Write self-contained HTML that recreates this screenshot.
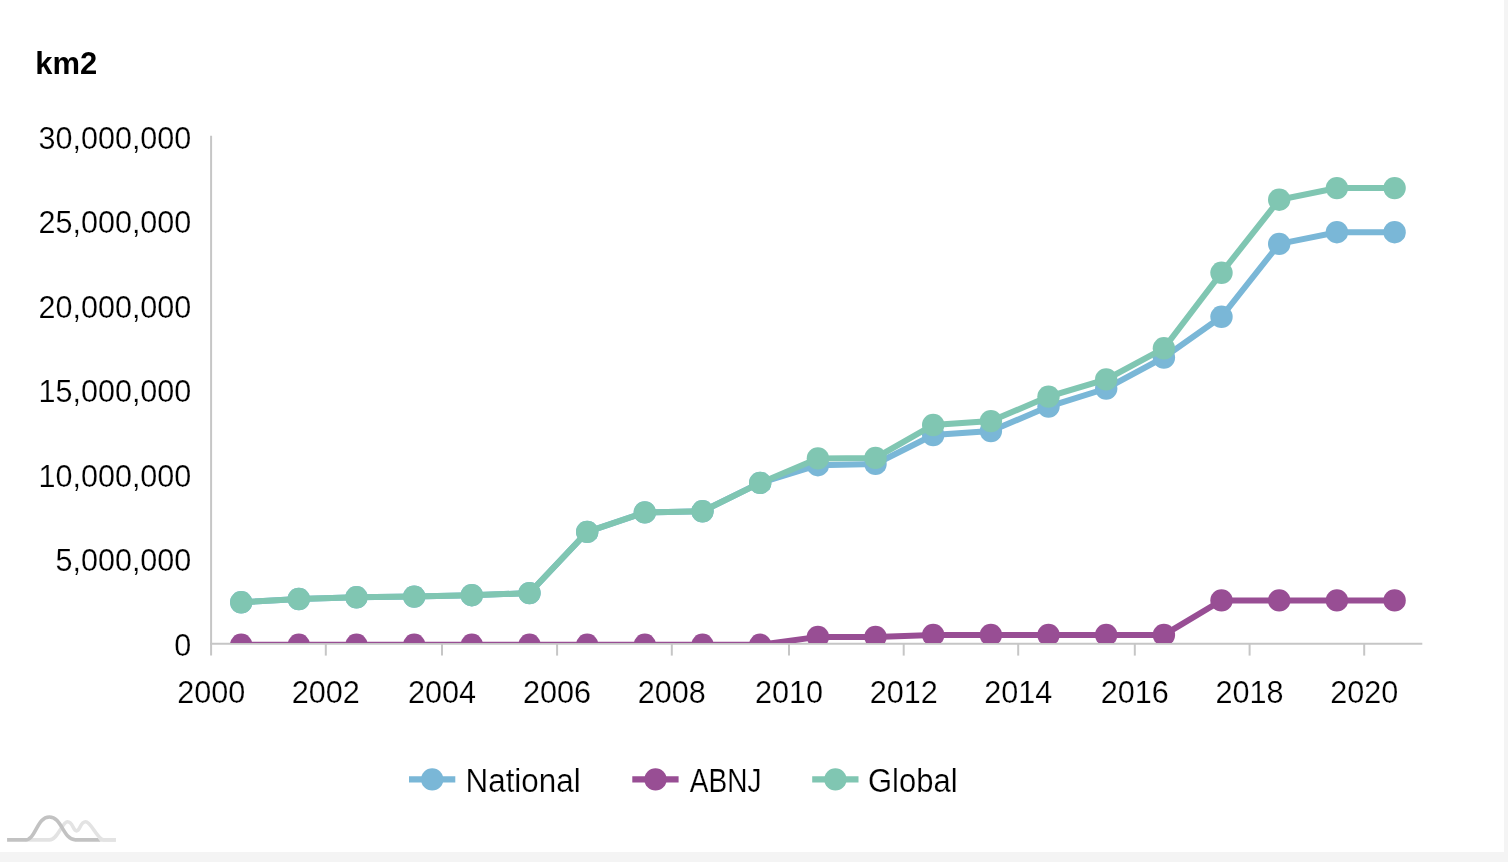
<!DOCTYPE html>
<html lang="en"><head><meta charset="utf-8"><title>Marine protected area growth</title>
<style>
html,body{margin:0;padding:0;background:#f4f4f4;overflow:hidden}
body{width:1508px;height:862px;position:relative;font-family:"Liberation Sans",sans-serif}
#card{position:absolute;left:0;top:0;width:1504px;height:852px;background:#fff}
svg{position:absolute;left:0;top:0;display:block}
svg text{font-family:"Liberation Sans",sans-serif;font-size:30px;fill:#000;stroke:#fff;stroke-width:0.2px;paint-order:fill stroke}
#unit{stroke:none}
</style></head><body>
<div id="card"></div>
<svg width="1508" height="862" viewBox="0 0 1508 862">
<text id="unit" transform="translate(35.2,74.4) scale(0.968,1)" style="font-weight:bold;font-size:32px">km2</text>
<g id="ylabels">
<text transform="translate(191.30,656.00) scale(1.018,1.068)" text-anchor="end">0</text>
<text transform="translate(191.30,571.42) scale(1.018,1.068)" text-anchor="end">5,000,000</text>
<text transform="translate(191.30,486.84) scale(1.018,1.068)" text-anchor="end">10,000,000</text>
<text transform="translate(191.30,402.26) scale(1.018,1.068)" text-anchor="end">15,000,000</text>
<text transform="translate(191.30,317.68) scale(1.018,1.068)" text-anchor="end">20,000,000</text>
<text transform="translate(191.30,233.10) scale(1.018,1.068)" text-anchor="end">25,000,000</text>
<text transform="translate(191.30,148.52) scale(1.018,1.068)" text-anchor="end">30,000,000</text>
</g>
<g id="xlabels">
<text transform="translate(211.20,702.80) scale(1.02,1.065)" text-anchor="middle">2000</text>
<text transform="translate(325.80,702.80) scale(1.02,1.065)" text-anchor="middle">2002</text>
<text transform="translate(442.00,702.80) scale(1.02,1.065)" text-anchor="middle">2004</text>
<text transform="translate(557.10,702.80) scale(1.02,1.065)" text-anchor="middle">2006</text>
<text transform="translate(671.80,702.80) scale(1.02,1.065)" text-anchor="middle">2008</text>
<text transform="translate(789.00,702.80) scale(1.02,1.065)" text-anchor="middle">2010</text>
<text transform="translate(903.70,702.80) scale(1.02,1.065)" text-anchor="middle">2012</text>
<text transform="translate(1018.20,702.80) scale(1.02,1.065)" text-anchor="middle">2014</text>
<text transform="translate(1134.80,702.80) scale(1.02,1.065)" text-anchor="middle">2016</text>
<text transform="translate(1249.60,702.80) scale(1.02,1.065)" text-anchor="middle">2018</text>
<text transform="translate(1364.20,702.80) scale(1.02,1.065)" text-anchor="middle">2020</text>
</g>
<g id="axes" stroke="#c6c6c6" stroke-width="2" fill="none">
<line x1="211.1" y1="135.7" x2="211.1" y2="655.6"/>
<line x1="210.1" y1="643.8" x2="1422.3" y2="643.8"/>
<line x1="325.8" y1="644" x2="325.8" y2="655.6"/>
<line x1="442.0" y1="644" x2="442.0" y2="655.6"/>
<line x1="557.1" y1="644" x2="557.1" y2="655.6"/>
<line x1="671.8" y1="644" x2="671.8" y2="655.6"/>
<line x1="789.0" y1="644" x2="789.0" y2="655.6"/>
<line x1="903.7" y1="644" x2="903.7" y2="655.6"/>
<line x1="1018.2" y1="644" x2="1018.2" y2="655.6"/>
<line x1="1134.8" y1="644" x2="1134.8" y2="655.6"/>
<line x1="1249.6" y1="644" x2="1249.6" y2="655.6"/>
<line x1="1364.2" y1="644" x2="1364.2" y2="655.6"/>
</g>
<defs><clipPath id="plot"><rect x="212" y="100" width="1296" height="543"/></clipPath></defs>
<g id="series" clip-path="url(#plot)">
<polyline points="241.2,602.3 298.8,599.0 356.5,597.3 414.2,596.6 471.8,595.2 529.5,593.1 587.2,531.9 644.8,512.4 702.5,511.3 760.2,482.9 817.9,465.2 875.5,463.9 933.2,435.0 990.9,431.1 1048.5,406.6 1106.2,388.5 1163.9,357.5 1221.5,316.8 1279.2,243.9 1336.9,232.2 1394.6,232.2" fill="none" stroke="#7ab7d7" stroke-width="6" stroke-linejoin="miter"/>
<circle cx="241.2" cy="602.3" r="11.2" fill="#7ab7d7"/>
<circle cx="298.8" cy="599.0" r="11.2" fill="#7ab7d7"/>
<circle cx="356.5" cy="597.3" r="11.2" fill="#7ab7d7"/>
<circle cx="414.2" cy="596.6" r="11.2" fill="#7ab7d7"/>
<circle cx="471.8" cy="595.2" r="11.2" fill="#7ab7d7"/>
<circle cx="529.5" cy="593.1" r="11.2" fill="#7ab7d7"/>
<circle cx="587.2" cy="531.9" r="11.2" fill="#7ab7d7"/>
<circle cx="644.8" cy="512.4" r="11.2" fill="#7ab7d7"/>
<circle cx="702.5" cy="511.3" r="11.2" fill="#7ab7d7"/>
<circle cx="760.2" cy="482.9" r="11.2" fill="#7ab7d7"/>
<circle cx="817.9" cy="465.2" r="11.2" fill="#7ab7d7"/>
<circle cx="875.5" cy="463.9" r="11.2" fill="#7ab7d7"/>
<circle cx="933.2" cy="435.0" r="11.2" fill="#7ab7d7"/>
<circle cx="990.9" cy="431.1" r="11.2" fill="#7ab7d7"/>
<circle cx="1048.5" cy="406.6" r="11.2" fill="#7ab7d7"/>
<circle cx="1106.2" cy="388.5" r="11.2" fill="#7ab7d7"/>
<circle cx="1163.9" cy="357.5" r="11.2" fill="#7ab7d7"/>
<circle cx="1221.5" cy="316.8" r="11.2" fill="#7ab7d7"/>
<circle cx="1279.2" cy="243.9" r="11.2" fill="#7ab7d7"/>
<circle cx="1336.9" cy="232.2" r="11.2" fill="#7ab7d7"/>
<circle cx="1394.6" cy="232.2" r="11.2" fill="#7ab7d7"/>

<polyline points="241.2,644.8 298.8,644.8 356.5,644.8 414.2,644.8 471.8,644.8 529.5,644.8 587.2,644.8 644.8,644.8 702.5,644.8 760.2,644.8 817.9,636.9 875.5,636.9 933.2,634.9 990.9,634.9 1048.5,634.9 1106.2,634.9 1163.9,634.9 1221.5,600.4 1279.2,600.4 1336.9,600.4 1394.6,600.4" fill="none" stroke="#984e94" stroke-width="6" stroke-linejoin="miter"/>
<circle cx="241.2" cy="644.8" r="11.2" fill="#984e94"/>
<circle cx="298.8" cy="644.8" r="11.2" fill="#984e94"/>
<circle cx="356.5" cy="644.8" r="11.2" fill="#984e94"/>
<circle cx="414.2" cy="644.8" r="11.2" fill="#984e94"/>
<circle cx="471.8" cy="644.8" r="11.2" fill="#984e94"/>
<circle cx="529.5" cy="644.8" r="11.2" fill="#984e94"/>
<circle cx="587.2" cy="644.8" r="11.2" fill="#984e94"/>
<circle cx="644.8" cy="644.8" r="11.2" fill="#984e94"/>
<circle cx="702.5" cy="644.8" r="11.2" fill="#984e94"/>
<circle cx="760.2" cy="644.8" r="11.2" fill="#984e94"/>
<circle cx="817.9" cy="636.9" r="11.2" fill="#984e94"/>
<circle cx="875.5" cy="636.9" r="11.2" fill="#984e94"/>
<circle cx="933.2" cy="634.9" r="11.2" fill="#984e94"/>
<circle cx="990.9" cy="634.9" r="11.2" fill="#984e94"/>
<circle cx="1048.5" cy="634.9" r="11.2" fill="#984e94"/>
<circle cx="1106.2" cy="634.9" r="11.2" fill="#984e94"/>
<circle cx="1163.9" cy="634.9" r="11.2" fill="#984e94"/>
<circle cx="1221.5" cy="600.4" r="11.2" fill="#984e94"/>
<circle cx="1279.2" cy="600.4" r="11.2" fill="#984e94"/>
<circle cx="1336.9" cy="600.4" r="11.2" fill="#984e94"/>
<circle cx="1394.6" cy="600.4" r="11.2" fill="#984e94"/>

<polyline points="241.2,602.3 298.8,599.0 356.5,597.3 414.2,596.6 471.8,595.2 529.5,593.1 587.2,531.9 644.8,512.4 702.5,511.3 760.2,482.9 817.9,458.4 875.5,457.9 933.2,425.0 990.9,421.1 1048.5,396.6 1106.2,379.4 1163.9,348.3 1221.5,272.8 1279.2,199.7 1336.9,188.1 1394.6,188.1" fill="none" stroke="#80c6b2" stroke-width="6" stroke-linejoin="miter"/>
<circle cx="241.2" cy="602.3" r="11.2" fill="#80c6b2"/>
<circle cx="298.8" cy="599.0" r="11.2" fill="#80c6b2"/>
<circle cx="356.5" cy="597.3" r="11.2" fill="#80c6b2"/>
<circle cx="414.2" cy="596.6" r="11.2" fill="#80c6b2"/>
<circle cx="471.8" cy="595.2" r="11.2" fill="#80c6b2"/>
<circle cx="529.5" cy="593.1" r="11.2" fill="#80c6b2"/>
<circle cx="587.2" cy="531.9" r="11.2" fill="#80c6b2"/>
<circle cx="644.8" cy="512.4" r="11.2" fill="#80c6b2"/>
<circle cx="702.5" cy="511.3" r="11.2" fill="#80c6b2"/>
<circle cx="760.2" cy="482.9" r="11.2" fill="#80c6b2"/>
<circle cx="817.9" cy="458.4" r="11.2" fill="#80c6b2"/>
<circle cx="875.5" cy="457.9" r="11.2" fill="#80c6b2"/>
<circle cx="933.2" cy="425.0" r="11.2" fill="#80c6b2"/>
<circle cx="990.9" cy="421.1" r="11.2" fill="#80c6b2"/>
<circle cx="1048.5" cy="396.6" r="11.2" fill="#80c6b2"/>
<circle cx="1106.2" cy="379.4" r="11.2" fill="#80c6b2"/>
<circle cx="1163.9" cy="348.3" r="11.2" fill="#80c6b2"/>
<circle cx="1221.5" cy="272.8" r="11.2" fill="#80c6b2"/>
<circle cx="1279.2" cy="199.7" r="11.2" fill="#80c6b2"/>
<circle cx="1336.9" cy="188.1" r="11.2" fill="#80c6b2"/>
<circle cx="1394.6" cy="188.1" r="11.2" fill="#80c6b2"/>

</g>
<g id="legend">
<line x1="409.0" y1="779.4" x2="455.3" y2="779.4" stroke="#7ab7d7" stroke-width="6.2"/>
<circle cx="432.2" cy="779.4" r="11.1" fill="#7ab7d7"/>
<text transform="translate(465.50,791.50) scale(1.047,1.08)" text-anchor="start">National</text>

<line x1="632.3" y1="779.4" x2="678.5999999999999" y2="779.4" stroke="#984e94" stroke-width="6.2"/>
<circle cx="655.5" cy="779.4" r="11.1" fill="#984e94"/>
<text transform="translate(689.70,791.50) scale(0.936,1.08)" text-anchor="start">ABNJ</text>

<line x1="812.2" y1="779.4" x2="858.5" y2="779.4" stroke="#80c6b2" stroke-width="6.2"/>
<circle cx="835.4000000000001" cy="779.4" r="11.1" fill="#80c6b2"/>
<text transform="translate(868.00,791.50) scale(1.033,1.08)" text-anchor="start">Global</text>

</g>
<g transform="translate(-5.01,809.69) scale(0.6042)" fill="none" stroke-width="6">
<defs><linearGradient id="ag" x1="0" y1="0" x2="1" y2="0" gradientTransform="rotate(-10 0.5 0.5)"><stop offset="0" stop-color="#c2c2c2"/><stop offset="0.75" stop-color="#c2c2c2"/><stop offset="0.755" stop-color="#e3e3e3"/><stop offset="1" stop-color="#e3e3e3"/></linearGradient></defs>
<path d="M50,50 C58.00,50.00 76.00,50.00 90,50 C104.00,50.00 111.00,20.00 120,20 C129.00,20.00 129.00,35.00 135,35 C141.00,35.00 141.00,20.00 150,20 C159.00,20.00 170.00,50.00 180,50 C190.00,50.00 196.00,50.00 200,50" stroke="#e3e3e3"/>
<path d="M20,50 C27.50,50.00 32.50,50.00 50,50 C67.50,50.00 69.25,12.00 90,12 C110.75,12.00 113.00,50.00 133,50 C153.00,50.00 153.25,50.00 170,50 C186.75,50.00 192.50,50.00 200,50" stroke="url(#ag)"/>
</g>
</svg>
</body></html>
